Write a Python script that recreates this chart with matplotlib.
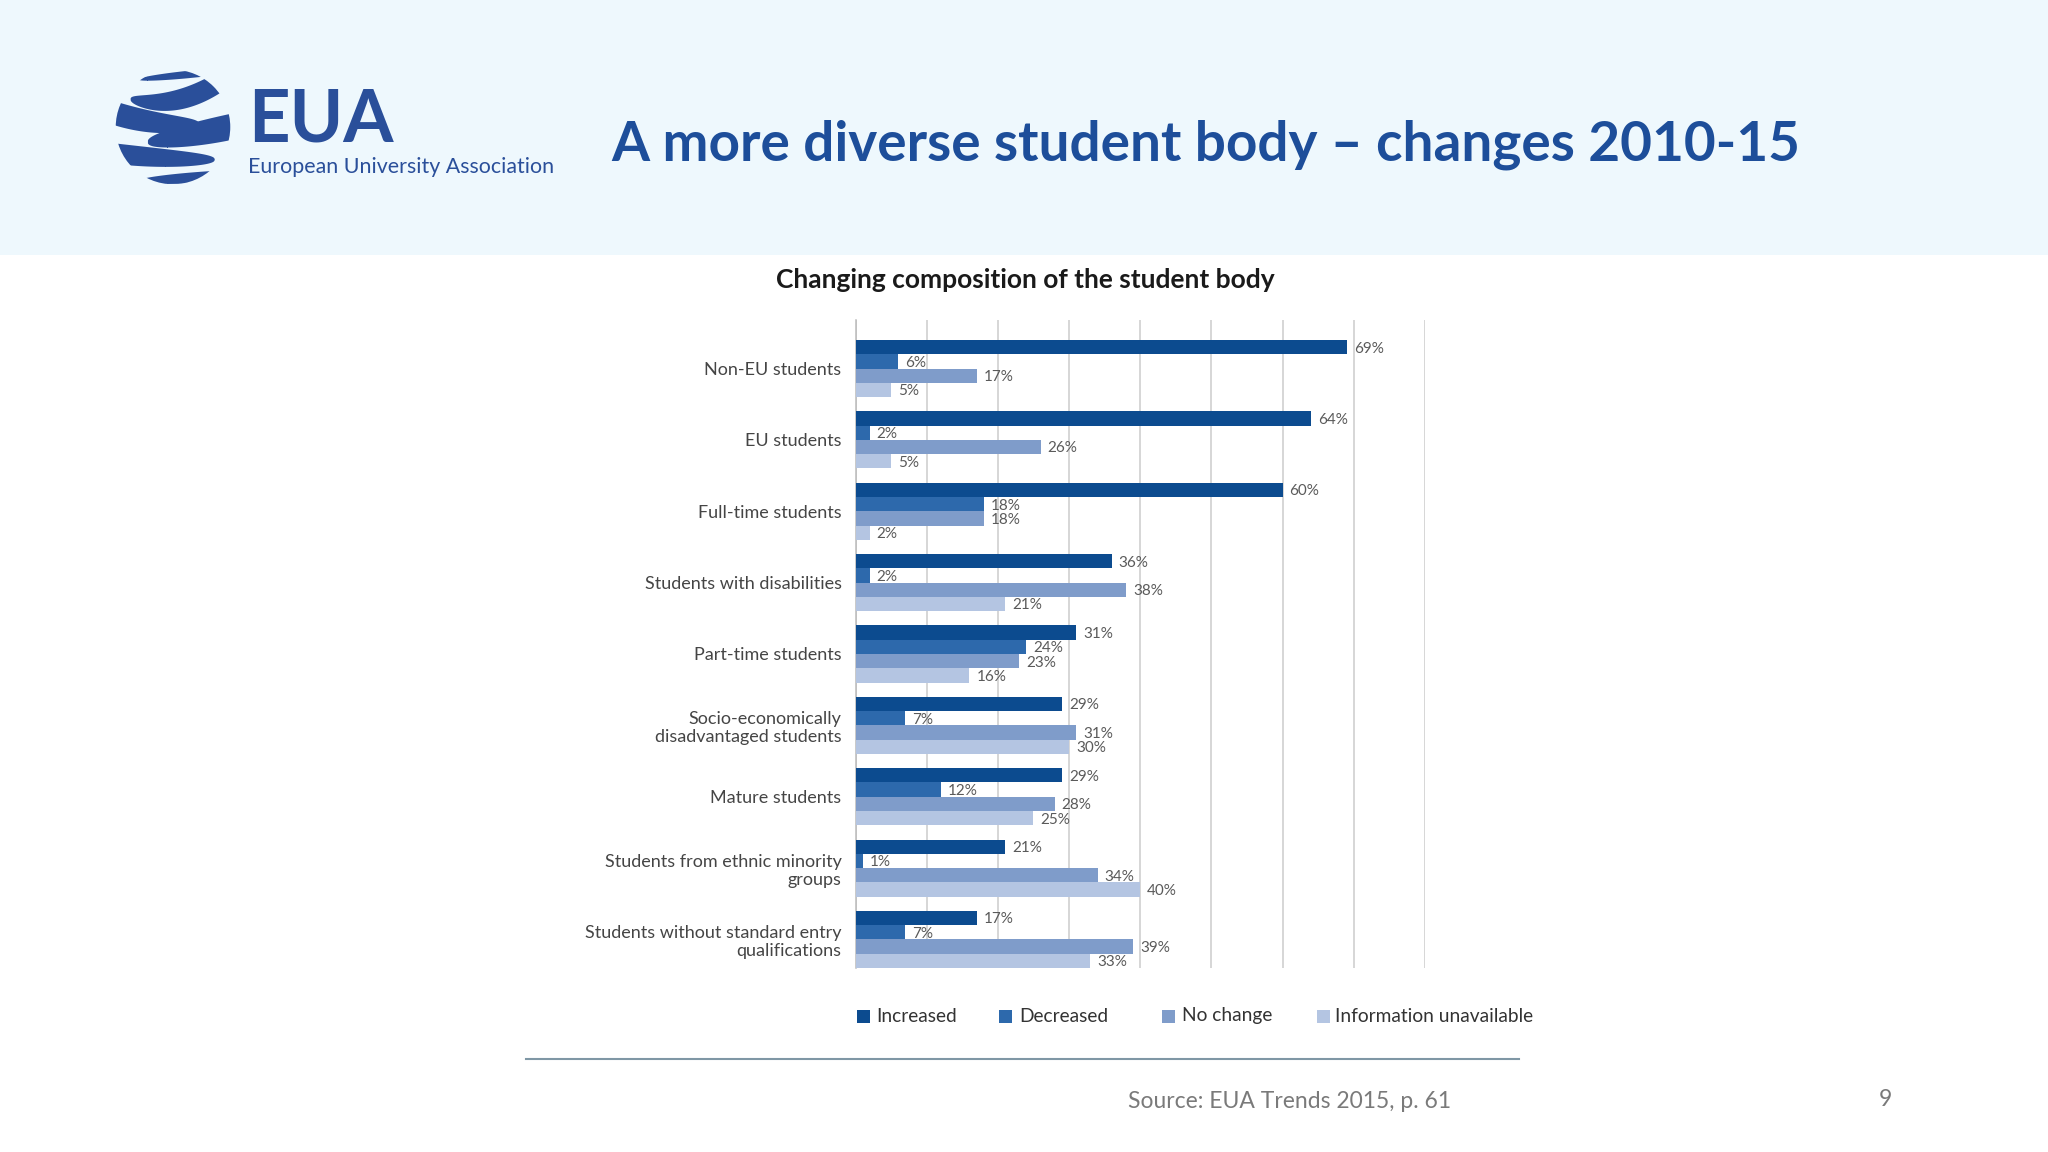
import numpy as np
import matplotlib
matplotlib.use("Agg")
import matplotlib.pyplot as plt
from matplotlib.patches import Rectangle, Circle

# ---------------- data ----------------
categories = [
    "Non-EU students",
    "EU students",
    "Full-time students",
    "Students with disabilities",
    "Part-time students",
    "Socio-economically\ndisadvantaged students",
    "Mature students",
    "Students from ethnic minority\ngroups",
    "Students without standard entry\nqualifications",
]
series_names = ["Increased", "Decreased", "No change", "Information unavailable"]
increased = [69, 64, 60, 36, 31, 29, 29, 21, 17]
decreased = [6, 2, 18, 2, 24, 7, 12, 1, 7]
no_change = [17, 26, 18, 38, 23, 31, 28, 34, 39]
info_unavailable = [5, 5, 2, 21, 16, 30, 25, 40, 33]
series_values = [increased, decreased, no_change, info_unavailable]
xticks = [0, 10, 20, 30, 40, 50, 60, 70, 80]

colors = ["#0c4b8f", "#2d69ac", "#7f9cca", "#b4c5e2"]

W, H = 2048, 1152
plt.rcParams["font.family"] = ["Lato", "DejaVu Sans"]
fig = plt.figure(figsize=(W / 100, H / 100), dpi=100)
fig.patch.set_facecolor("white")


def fx(px):
    return px / W


def fy(py):
    return 1 - py / H


# header band
fig.patches.append(Rectangle((0, fy(255)), 1, 255 / H, transform=fig.transFigure,
                             facecolor="#eef8fd", edgecolor="none", zorder=-5))

# ---------------- logo globe ----------------
gx0, gy0, gsz = 110, 64, 126
lax = fig.add_axes([fx(gx0), fy(gy0 + gsz), fx(gsz), gsz / H], zorder=2)
lax.set_xlim(-1.1, 1.1)
lax.set_ylim(-1.1, 1.1)
lax.set_aspect("equal")
lax.axis("off")
lax.patch.set_visible(False)
clip = Circle((0, 0), 1.0, transform=lax.transData)
xs = np.linspace(-1.05, 1.05, 300)
# (x_thin_tip, x_thick_end, y0, slope, curv, half_thickness)
bands = [
    (-0.60, 0.30, 0.90, 0.10, 0.0, 0.065),
    (-0.75, 0.80, 0.47, 0.18, 0.28, 0.20),
    (0.45, -1.05, 0.06, -0.06, 0.12, 0.21),
    (-0.45, 1.05, -0.18, 0.17, 0.02, 0.23),
    (0.72, -1.05, -0.54, -0.05, 0.03, 0.18),
    (-0.60, 0.70, -0.90, 0.06, 0.0, 0.10),
]
for xt, xe, y0, sl, cv, h in bands:
    t = np.clip((xs - xt) / (xe - xt), 0, 1)
    prof = np.sin(np.pi / 2 * t) ** 0.4
    yc = y0 + sl * xs + cv * xs ** 2
    th = h * prof
    mask = t > 0
    coll = lax.fill_between(xs[mask], (yc - th)[mask], (yc + th)[mask],
                            color="#2a4f9a", lw=0)
    coll.set_clip_path(clip)

fig.text(fx(248), fy(141), "EUA", fontsize=52, fontweight="bold", color="#2a4f9a",
         ha="left", va="baseline")
fig.text(fx(248), fy(173), "European University Association", fontsize=15.4,
         color="#2a4f9a", ha="left", va="baseline")

# main title
fig.text(fx(611), fy(145), "A more diverse student body \u2013 changes 2010-15",
         fontsize=39.5, fontweight="bold", color="#1d4e9a", ha="left", va="center")

# chart title
fig.text(fx(1025), fy(280), "Changing composition of the student body",
         fontsize=19, fontweight="bold", color="#1a1a1a", ha="center", va="center")

# ---------------- bar chart ----------------
left, right, top, bottom = 855.5, 1425, 320, 968
ax = fig.add_axes([fx(left), fy(bottom), fx(right - left), (bottom - top) / H])
n = len(categories)
ypos = np.arange(n)
bh = 0.2
for j, (vals, col) in enumerate(zip(series_values, colors)):
    yy = ypos + j * bh
    ax.barh(yy, vals, height=bh, color=col, edgecolor="none", zorder=3)
    for y, v in zip(yy, vals):
        ax.annotate(f"{v}%", (v, y), xytext=(5, -1), textcoords="offset points",
                    ha="left", va="center", fontsize=11, color="#5a5a5a", zorder=4)

ax.set_xlim(xticks[0], xticks[-1])
ax.set_ylim(n - 1 + 3 * bh + bh / 2, -0.38)
ax.set_xticks(xticks)
ax.xaxis.grid(True, color="#cccccc", lw=1.1, zorder=0)
ax.tick_params(axis="x", length=0, labelbottom=False)
ax.set_yticks(ypos + 1.5 * bh)
ax.set_yticklabels(categories, fontsize=13, color="#454545", linespacing=1.15)
ax.tick_params(axis="y", length=0, pad=10)
for s in ["top", "right", "bottom"]:
    ax.spines[s].set_visible(False)
ax.spines["left"].set_color("#bbbbbb")
ax.spines["left"].set_linewidth(1.1)
ax.set_facecolor("none")

# legend (manual)
sq_x = [857, 999, 1162, 1317]
tx_x = [876, 1019, 1182, 1335]
ly = 1016
sq = 13
for name, col, sx, tx in zip(series_names, colors, sq_x, tx_x):
    fig.patches.append(Rectangle((fx(sx), fy(ly + sq / 2)), sq / W, sq / H,
                                 transform=fig.transFigure, facecolor=col,
                                 edgecolor="none"))
    fig.text(fx(tx), fy(ly), name, fontsize=13.8, color="#333333",
             ha="left", va="center")

# bottom rule and source
fig.add_artist(plt.Line2D([fx(526), fx(1519)], [fy(1059), fy(1059)],
                          transform=fig.transFigure, color="#7f97a5", lw=1.5))
fig.text(fx(1128), fy(1102), "Source: EUA Trends 2015, p. 61", fontsize=16.5,
         color="#7a7a7a", ha="left", va="center")
fig.text(fx(1885), fy(1099), "9", fontsize=16.5, color="#7a7a7a", ha="center",
         va="center")

fig.savefig("out.png", dpi=100, facecolor=fig.get_facecolor())
